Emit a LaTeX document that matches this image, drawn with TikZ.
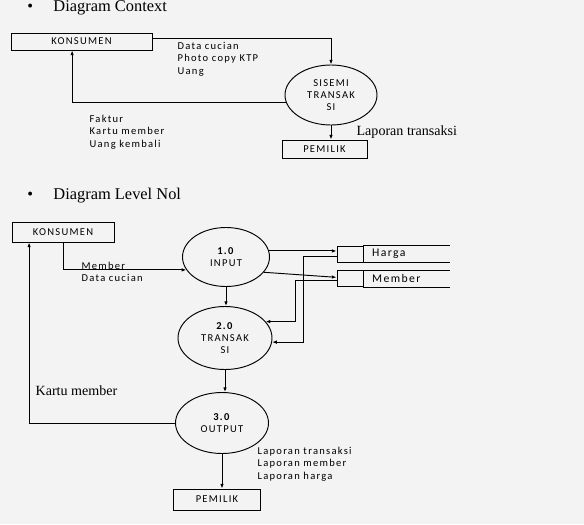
\documentclass[tikz,border=0pt]{standalone}
\usepackage{fontspec}
\setmainfont{Liberation Serif}
\newfontfamily\dfdfont[LetterSpace=12]{Carlito}
\usepackage{tikz}
\usetikzlibrary{shapes.geometric, arrows.meta}
\definecolor{latar}{RGB}{243,243,243}

\begin{document}
\begin{tikzpicture}[x=0.03cm, y=-0.03cm, line width=0.8pt,
  every node/.style={font=\dfdfont\fontsize{9}{10.5}\selectfont},
  entitas/.style={draw, rectangle, inner sep=0pt},
  proses/.style={draw, ellipse, inner sep=0pt, align=center},
  keterangan/.style={anchor=west, align=left, inner sep=1pt},
  serif/.style={font=\fontsize{12}{14}\selectfont},
  judul/.style={anchor=west, inner sep=0pt, font=\fontsize{14}{16}\selectfont},
  panah/.style={-{Latex[length=4pt,width=3pt]}}]
\fill[latar] (0,0) rectangle (584,524);
\useasboundingbox (0,0) rectangle (584,524);

\node[judul] (b1) at (27,8) {\textbullet};
\node[judul] (j1) at (53,8) {Diagram Context};
\node[entitas, minimum width=4.23cm, minimum height=0.51cm] (kons1) at (81.5,41.5) {KONSUMEN};
\node[proses, minimum width=2.76cm, minimum height=1.8cm] (sis) at (331,95) {SISEMI\\TRANSAK\\SI};
\node[entitas, minimum width=2.55cm, minimum height=0.54cm] (pem1) at (324.5,149) {PEMILIK};
\draw[panah] ([yshift=3pt]kons1.east) -| (sis.north);
\draw[panah] (sis.189) -| ([xshift=-8pt]kons1.south);
\draw[panah] (sis.south) -- (sis.south |- pem1.north);
\node[keterangan] at (176,59) {Data cucian\\Photo copy KTP\\Uang};
\node[keterangan] at (88,132) {Faktur\\Kartu member\\Uang kembali};
\node[keterangan, serif] at (355,132) {Laporan transaksi};

\node[judul] (b2) at (27,196) {\textbullet};
\node[judul] (j2) at (53,196) {Diagram Level Nol};
\node[entitas, minimum width=3.06cm, minimum height=0.6cm] (kons2) at (63,232) {KONSUMEN};
\node[proses, minimum width=2.61cm, minimum height=1.77cm] (inp) at (226,257) {\textbf{1.0}\\INPUT};
\node[proses, minimum width=2.82cm, minimum height=1.89cm] (tr) at (225,338) {\textbf{2.0}\\TRANSAK\\SI};
\node[proses, minimum width=2.79cm, minimum height=1.83cm] (out) at (222,423) {\textbf{3.0}\\OUTPUT};
\node[entitas, minimum width=2.61cm, minimum height=0.63cm] (pem2) at (217,499.5) {PEMILIK};

\node[entitas, minimum width=0.78cm, minimum height=0.48cm] (hargabox) at (350,254) {};
\node[entitas, minimum width=0.78cm, minimum height=0.48cm] (memberbox) at (350,278.5) {};
\draw (hargabox.north east) -- ++(87,0) (hargabox.south east) -- ++(87,0);
\draw (memberbox.north east) -- ++(87,0) (memberbox.south east) -- ++(87,0);
\node[anchor=west, inner sep=2pt, font=\dfdfont\fontsize{10}{12}\selectfont] (harga) at ([xshift=5pt]hargabox.east) {Harga};
\node[anchor=west, inner sep=2pt, font=\dfdfont\fontsize{10}{12}\selectfont] (member) at ([xshift=5pt]memberbox.east) {Member};

\draw[panah] (kons2.south) |- (inp.198);
\draw[panah] (inp.south) -- (inp.south |- tr.north);
\draw[panah] (tr.south) -- (tr.south |- out.north);
\draw[panah] (out.south) -- (out.south |- pem2.north);
\draw[panah] (out.west) -| ([xshift=15pt]kons2.south west);
\draw[panah] (inp.8) -- (inp.8 -| hargabox.west);
\draw[panah] (inp.-22) -- ([yshift=1pt]memberbox.west);
\draw[panah] ([yshift=-2.5pt]hargabox.west) -- ++(-33,0) |- (tr.-5);
\draw[panah] ([yshift=-2pt]memberbox.west) -- ++(-41,0) |- (tr.22);
\node[keterangan] at (80,272) {Member\\Data cucian};
\node[keterangan, serif] at (34,391) {Kartu member};
\node[keterangan] at (256,464) {Laporan transaksi\\Laporan member\\Laporan harga};
\end{tikzpicture}
\end{document}
